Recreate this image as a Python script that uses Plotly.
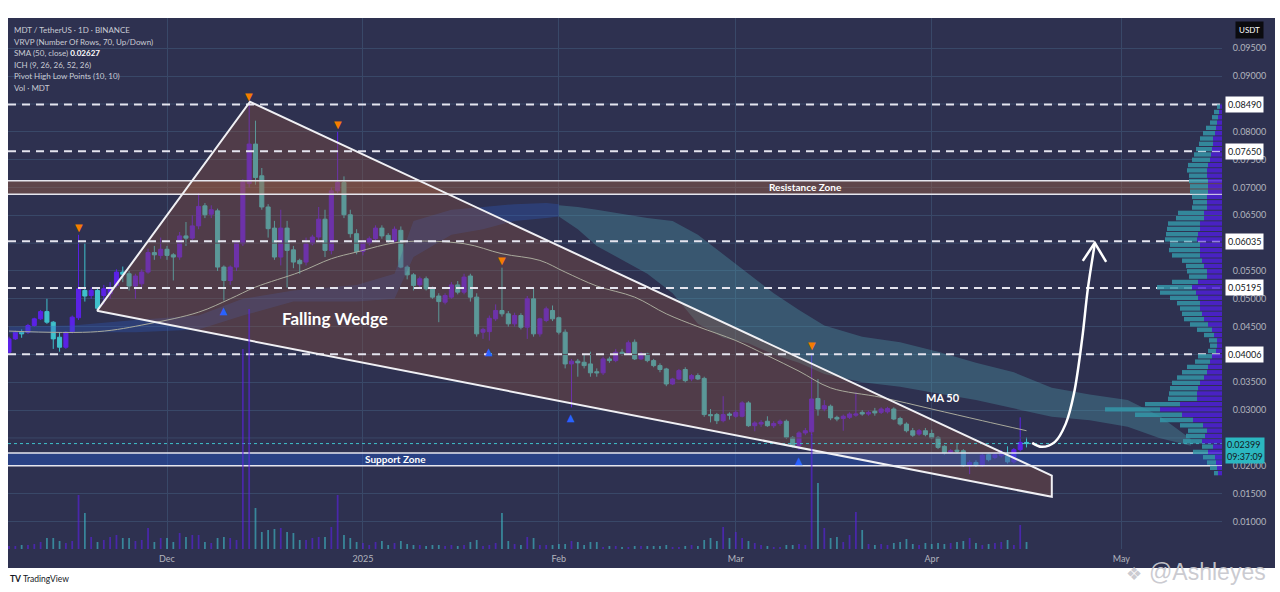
import numpy as np
import pandas as pd
import plotly.graph_objects as go

# ---------------- data ----------------
start_date = "2024-11-06"
ref_date = "2024-12-01"

open_ = [0.0404,0.0428,0.0441,0.0440,0.0452,0.0464,0.0477,0.0458,0.0431,0.0413,
         0.0441,0.0466,0.0515,0.0506,0.0515,0.0506,0.0509,0.0524,0.0548,0.0545,
         0.0523,0.0527,0.0548,0.0583,0.0578,0.0589,0.0579,0.0575,0.0613,0.0609,
         0.0631,0.0667,0.0652,0.0658,0.0557,0.0533,0.0557,0.0599,0.0707,0.0778,
         0.0721,0.0665,0.0627,0.0575,0.0627,0.0588,0.0569,0.0566,0.0599,0.0611,
         0.0643,0.0587,0.0694,0.0709,0.0651,0.0617,0.0585,0.0600,0.0608,0.0627,
         0.0614,0.0604,0.0623,0.0557,0.0543,0.0525,0.0536,0.0518,0.0505,0.0494,
         0.0503,0.0525,0.0512,0.0541,0.0503,0.0440,0.0441,0.0464,0.0479,0.0473,
         0.0455,0.0470,0.0449,0.0500,0.0437,0.0461,0.0479,0.0466,0.0440,0.0383,
         0.0388,0.0386,0.0383,0.0369,0.0367,0.0392,0.0389,0.0404,0.0403,0.0422,
         0.0392,0.0401,0.0389,0.0380,0.0374,0.0347,0.0356,0.0373,0.0356,0.0362,
         0.0357,0.0292,0.0292,0.0281,0.0293,0.0289,0.0289,0.0313,0.0272,0.0275,
         0.0280,0.0272,0.0276,0.0280,0.0251,0.0236,0.0259,0.0261,0.0321,0.0302,
         0.0307,0.0287,0.0285,0.0287,0.0291,0.0296,0.0293,0.0298,0.0296,0.0297,
         0.0302,0.0285,0.0275,0.0263,0.0257,0.0263,0.0258,0.0251,0.0235,0.0224,
         0.0228,0.0227,0.0200,0.0206,0.0200,0.0220,0.0215,0.0218,0.0218,0.0207,
         0.0229,0.0242]
high = [0.0432,0.0443,0.0445,0.0455,0.0466,0.0480,0.0500,0.0460,0.0440,0.0442,
        0.0470,0.0615,0.0600,0.0520,0.0520,0.0525,0.0530,0.0553,0.0558,0.0550,
        0.0545,0.0553,0.0590,0.0595,0.0610,0.0595,0.0582,0.0620,0.0638,0.0650,
        0.0690,0.0672,0.0668,0.0662,0.0560,0.0560,0.0605,0.0715,0.0850,0.0820,
        0.0735,0.0670,0.0640,0.0660,0.0640,0.0595,0.0572,0.0610,0.0615,0.0665,
        0.0660,0.0700,0.0800,0.0720,0.0660,0.0625,0.0606,0.0612,0.0632,0.0632,
        0.0618,0.0630,0.0630,0.0560,0.0546,0.0540,0.0540,0.0522,0.0510,0.0510,
        0.0530,0.0532,0.0545,0.0545,0.0510,0.0448,0.0470,0.0490,0.0556,0.0478,
        0.0475,0.0474,0.0505,0.0518,0.0466,0.0486,0.0488,0.0468,0.0445,0.0392,
        0.0392,0.0400,0.0405,0.0375,0.0396,0.0396,0.0410,0.0410,0.0425,0.0427,
        0.0404,0.0403,0.0392,0.0384,0.0376,0.0358,0.0374,0.0377,0.0365,0.0366,
        0.0360,0.0302,0.0295,0.0325,0.0296,0.0300,0.0316,0.0316,0.0280,0.0282,
        0.0289,0.0280,0.0283,0.0283,0.0253,0.0262,0.0268,0.0402,0.0356,0.0318,
        0.0310,0.0290,0.0292,0.0296,0.0332,0.0300,0.0299,0.0304,0.0305,0.0306,
        0.0305,0.0288,0.0278,0.0268,0.0266,0.0268,0.0265,0.0253,0.0237,0.0230,
        0.0240,0.0230,0.0210,0.0210,0.0222,0.0222,0.0224,0.0228,0.0235,0.0232,
        0.0287,0.0251]
low = [0.0400,0.0426,0.0430,0.0437,0.0450,0.0462,0.0455,0.0410,0.0405,0.0410,
       0.0438,0.0462,0.0495,0.0500,0.0478,0.0490,0.0500,0.0520,0.0530,0.0515,
       0.0500,0.0520,0.0545,0.0570,0.0572,0.0570,0.0533,0.0570,0.0595,0.0605,
       0.0625,0.0645,0.0645,0.0550,0.0497,0.0525,0.0550,0.0595,0.0700,0.0705,
       0.0660,0.0610,0.0570,0.0560,0.0520,0.0555,0.0545,0.0560,0.0596,0.0605,
       0.0575,0.0580,0.0690,0.0645,0.0610,0.0580,0.0578,0.0596,0.0604,0.0608,
       0.0600,0.0600,0.0555,0.0535,0.0515,0.0520,0.0515,0.0500,0.0458,0.0490,
       0.0500,0.0508,0.0508,0.0495,0.0432,0.0428,0.0425,0.0460,0.0468,0.0450,
       0.0450,0.0445,0.0428,0.0432,0.0432,0.0458,0.0460,0.0436,0.0375,0.0305,
       0.0360,0.0375,0.0360,0.0360,0.0363,0.0385,0.0386,0.0398,0.0400,0.0390,
       0.0390,0.0386,0.0377,0.0368,0.0343,0.0345,0.0354,0.0350,0.0352,0.0354,
       0.0288,0.0278,0.0275,0.0278,0.0283,0.0286,0.0287,0.0270,0.0262,0.0270,
       0.0270,0.0268,0.0272,0.0248,0.0233,0.0229,0.0255,0.0255,0.0290,0.0298,
       0.0282,0.0280,0.0263,0.0284,0.0288,0.0290,0.0290,0.0290,0.0293,0.0294,
       0.0282,0.0272,0.0260,0.0252,0.0254,0.0253,0.0248,0.0230,0.0220,0.0222,
       0.0222,0.0198,0.0185,0.0198,0.0198,0.0208,0.0212,0.0215,0.0204,0.0204,
       0.0226,0.0233]
close = [0.0428,0.0440,0.0437,0.0452,0.0464,0.0477,0.0458,0.0428,0.0413,0.0440,
         0.0467,0.0518,0.0505,0.0515,0.0483,0.0518,0.0518,0.0548,0.0544,0.0523,
         0.0541,0.0548,0.0583,0.0579,0.0589,0.0578,0.0575,0.0613,0.0609,0.0631,
         0.0666,0.0651,0.0660,0.0557,0.0533,0.0557,0.0601,0.0710,0.0778,0.0718,
         0.0665,0.0626,0.0575,0.0627,0.0587,0.0566,0.0563,0.0599,0.0611,0.0643,
         0.0587,0.0694,0.0709,0.0651,0.0617,0.0585,0.0602,0.0608,0.0627,0.0613,
         0.0604,0.0625,0.0557,0.0543,0.0524,0.0536,0.0518,0.0503,0.0495,0.0506,
         0.0525,0.0512,0.0539,0.0503,0.0437,0.0445,0.0465,0.0479,0.0473,0.0455,
         0.0470,0.0449,0.0500,0.0437,0.0464,0.0482,0.0464,0.0440,0.0383,0.0388,
         0.0385,0.0380,0.0367,0.0367,0.0392,0.0389,0.0404,0.0401,0.0421,0.0392,
         0.0401,0.0389,0.0380,0.0373,0.0347,0.0356,0.0371,0.0353,0.0362,0.0356,
         0.0292,0.0290,0.0281,0.0292,0.0291,0.0296,0.0313,0.0272,0.0277,0.0278,
         0.0272,0.0276,0.0280,0.0251,0.0236,0.0259,0.0263,0.0320,0.0302,0.0308,
         0.0286,0.0284,0.0289,0.0293,0.0293,0.0293,0.0296,0.0295,0.0302,0.0303,
         0.0284,0.0275,0.0263,0.0255,0.0263,0.0256,0.0250,0.0233,0.0223,0.0227,
         0.0226,0.0200,0.0206,0.0201,0.0219,0.0211,0.0220,0.0224,0.0207,0.0229,
         0.0242,0.02399]
volume_m = [1.5,1.5,2,2,2.5,3.5,5.5,5.5,4,3,
            4,27,18,6,3.5,4.5,6,7,5.5,5.5,
            4,4.5,10.5,3.5,5.5,5.5,3.5,8,6,7,
            7,3.5,3,5.5,6,5.5,4.5,100,120,20.5,
            8.5,9.5,10,10.5,8.5,8,4.5,4.5,5.5,6,
            6,11,27,7,5.5,3.5,3,2,3.5,4,
            2,3,4,2.5,2,2,1.5,2,2,1.5,
            2,1.5,2,3.5,4.5,1.5,2,3,18,4,
            2.5,2,6,5.5,2,2,2,2.5,2.5,4,
            3.5,2,3.5,3.5,1,1.5,1.5,1,1,1.5,
            1.5,1.5,1.5,1.5,2,1,1,1.5,2,1.5,
            4.5,5.5,4,11,5.5,8.5,5.5,4,3,2,
            1.5,1,1,2,2,2.5,2,57.5,33,10.5,
            5.5,6,3.5,7,18.5,9.5,2.5,2,2.5,2,
            3,3.5,5,2.5,2,3,2.5,3,2.5,3,
            3.5,4,5.5,3,2,2.5,3,3.5,4.5,2,
            12,3.5]

# SMA(50) line, days since 1 Dec 2024
sma_days = [-25, -11, -3, 5, 10, 14, 21, 26, 30, 37, 47, 53, 59, 63, 68, 74,
            79, 84, 90, 95, 100, 105, 113, 121, 129, 136]
sma_vals = [0.0442, 0.0441, 0.0455, 0.0476, 0.0500, 0.0521, 0.0548, 0.0572, 0.0584,
            0.0602, 0.0599, 0.0581, 0.0569, 0.0548, 0.0523, 0.0503, 0.0473, 0.0450,
            0.0425, 0.0398, 0.0370, 0.0340, 0.0323, 0.0302, 0.0281, 0.0263]

# Ichimoku cloud (bullish / bearish parts)
cloud_bull_days = [-25, -15, -5, 5, 12, 20, 30, 36, 39, 45, 50, 55, 60, 62]
cloud_bull_top = [0.0450, 0.0452, 0.0462, 0.0470, 0.0500, 0.0515, 0.0525, 0.0545,
                  0.0640, 0.0660, 0.0665, 0.0670, 0.0672, 0.0670]
cloud_bull_bot = [0.0438, 0.0440, 0.0440, 0.0445, 0.0470, 0.0495, 0.0495, 0.0500,
                  0.0575, 0.0615, 0.0625, 0.0640, 0.0645, 0.0648]
cloud_bear_days = [62, 65, 68, 72, 76, 80, 84, 88, 92, 96, 100, 104, 110, 116, 122,
                   128, 134, 140, 146, 152, 157, 162]
cloud_bear_top = [0.0668, 0.0665, 0.0660, 0.0652, 0.0645, 0.0640, 0.0615, 0.0580,
                  0.0545, 0.0510, 0.0480, 0.0452, 0.0432, 0.0422, 0.0405, 0.0385,
                  0.0368, 0.0340, 0.0328, 0.0318, 0.0290, 0.0248]
cloud_bear_bot = [0.0648, 0.0625, 0.0595, 0.0570, 0.0545, 0.0510, 0.0455, 0.0430,
                  0.0420, 0.0400, 0.0385, 0.0365, 0.0350, 0.0342, 0.0330, 0.0318,
                  0.0303, 0.0288, 0.0282, 0.0270, 0.0250, 0.0236]

# Visible range volume profile (70 rows)
vp_low, vp_high = 0.0182, 0.0850
vp_down = [4,5,6,7,14,9,20,17,15,19, 29,40,62,42,25,25,24,22,18,15,
           14,12,10,6,5,5,8,10,14,18, 20,22,22,24,26,30,24,15,15,18,
           20,22,22,22,25,24,22,22,18,18, 15,15,15,14,14,14,15,15,14,12,
           11,10,9,9,7,6,5,4,3,2]
vp_up = [4,7,9,12,15,11,19,19,19,23, 33,47,55,35,29,28,28,28,27,25,
         21,15,14,8,7,8,10,15,18,20, 20,20,23,28,36,35,26,18,20,18,
         20,28,31,30,32,32,33,32,28,26, 15,14,15,18,18,19,18,20,20,18,
         17,16,14,13,12,10,7,6,5,3]

key_levels = [0.08490, 0.07650, 0.06035, 0.05195, 0.04006]
resistance_zone = (0.0688, 0.0712)
support_zone = (0.0200, 0.0223)
last_price = 0.02399
grid_levels = [round(0.01 + 0.005 * k, 3) for k in range(18)]
# axis labels that are covered by the price boxes in the reference
hidden_ticks = [0.085, 0.06, 0.04, 0.025]
price_ticks = [v for v in grid_levels if v not in hidden_ticks]

pivot_high_days = [-14, 13, 27, 53, 102]
pivot_low_days = [9, 51, 64, 100]

wedge_days = [-11.08, 13.13, 140.0, 140.0]
wedge_prices = [0.04784, 0.0854, 0.01823, 0.01442]

arrow_days = [136.9, 138.4, 140.5, 142.2, 143.5, 144.8, 145.7, 146.8]
arrow_prices = [0.02412, 0.02340, 0.02430, 0.02753, 0.03293, 0.04280, 0.05179, 0.05987]
arrow_head_days = [144.9, 146.8, 148.6]
arrow_head_prices = [0.05681, 0.06005, 0.05663]

month_days = [0, 31, 62, 90, 121, 151]
month_labels = ["Dec", "2025", "Feb", "Mar", "Apr", "May"]

# ---------------- styling ----------------
BG = "#2e3150"
UP = "#5b22e6"
DN = "#3fc0cb"
GRID = "#394868"
AXT = "#b2b5be"
XR = [-25.16, 166.93]
YR = [0.00505, 0.10045]

dates = pd.date_range(start_date, periods=len(close), freq="D")
xd = (dates - pd.Timestamp(ref_date)).days.values.astype(float)

fig = go.Figure()

# grid lines at levels whose labels are hidden
for v in hidden_ticks:
    fig.add_trace(go.Scatter(x=XR, y=[v, v], mode="lines",
                             line=dict(color=GRID, width=1), hoverinfo="skip"))

# Ichimoku cloud
fig.add_trace(go.Scatter(x=cloud_bull_days + cloud_bull_days[::-1],
                         y=cloud_bull_top + cloud_bull_bot[::-1], fill="toself",
                         fillcolor="rgba(45,90,190,0.33)", line=dict(width=0),
                         mode="lines", hoverinfo="skip"))
fig.add_trace(go.Scatter(x=cloud_bear_days + cloud_bear_days[::-1],
                         y=cloud_bear_top + cloud_bear_bot[::-1], fill="toself",
                         fillcolor="rgba(80,160,175,0.34)", line=dict(width=0),
                         mode="lines", hoverinfo="skip"))

# wedge fill
fig.add_trace(go.Scatter(x=wedge_days, y=wedge_prices, fill="toself",
                         fillcolor="rgba(140,80,60,0.36)", line=dict(width=0),
                         mode="lines", hoverinfo="skip"))

# zones
for (lo, hi), col in [(resistance_zone, "rgba(165,100,70,0.42)"),
                      (support_zone, "rgba(35,90,210,0.40)")]:
    fig.add_trace(go.Scatter(x=[XR[0], XR[1], XR[1], XR[0]], y=[lo, lo, hi, hi],
                             fill="toself", fillcolor=col, line=dict(width=0),
                             mode="lines", hoverinfo="skip"))

# volume profile
n_rows = len(vp_up)
row_h = (vp_high - vp_low) / n_rows
vp_centers = vp_low + row_h * (np.arange(n_rows) + 0.5)
fig.add_trace(go.Bar(x=vp_down, y=vp_centers, orientation="h", xaxis="x2", yaxis="y",
                     width=row_h * 0.82, base=0, marker=dict(color="rgba(78,32,215,0.85)",
                     line=dict(width=0)), hoverinfo="skip"))
fig.add_trace(go.Bar(x=vp_up, y=vp_centers, orientation="h", xaxis="x2", yaxis="y",
                     width=row_h * 0.82, base=vp_down, marker=dict(color="rgba(52,150,168,0.85)",
                     line=dict(width=0)), hoverinfo="skip"))

# volume bars
vcol = ["rgba(91,34,230,0.6)" if c >= o else "rgba(63,192,203,0.6)"
        for o, c in zip(open_, close)]
fig.add_trace(go.Bar(x=xd, y=volume_m, yaxis="y2", width=0.28,
                     marker=dict(color=vcol, line=dict(width=0)), hoverinfo="skip"))

# SMA
fig.add_trace(go.Scatter(x=sma_days, y=sma_vals, mode="lines",
                         line=dict(color="#a9aa9c", width=1, shape="spline"),
                         hoverinfo="skip"))

# candles
fig.add_trace(go.Candlestick(x=xd, open=open_, high=high, low=low, close=close,
                             increasing=dict(line=dict(color=UP, width=1), fillcolor=UP),
                             decreasing=dict(line=dict(color=DN, width=1), fillcolor=DN),
                             whiskerwidth=0, hoverinfo="skip"))

# zone edge lines
for lo, hi in [resistance_zone, support_zone]:
    for v in (lo, hi):
        fig.add_trace(go.Scatter(x=XR, y=[v, v], mode="lines",
                                 line=dict(color="#e6e6ee", width=1.5), hoverinfo="skip"))

# dashed key levels
for v in key_levels:
    fig.add_trace(go.Scatter(x=XR, y=[v, v], mode="lines",
                             line=dict(color="#e4e4ee", width=2, dash="8px,6px"),
                             hoverinfo="skip"))

# last price line
fig.add_trace(go.Scatter(x=XR, y=[last_price, last_price], mode="lines",
                         line=dict(color=DN, width=1, dash="dot"), hoverinfo="skip"))

# wedge outline
fig.add_trace(go.Scatter(x=wedge_days + wedge_days[:1], y=wedge_prices + wedge_prices[:1],
                         mode="lines", line=dict(color="#f0f0f4", width=2), hoverinfo="skip"))

# arrow
fig.add_trace(go.Scatter(x=arrow_days, y=arrow_prices, mode="lines",
                         line=dict(color="white", width=2.5, shape="spline"), hoverinfo="skip"))
fig.add_trace(go.Scatter(x=arrow_head_days, y=arrow_head_prices, mode="lines",
                         line=dict(color="white", width=2.5), hoverinfo="skip"))

ann = []
# pivots
for d in pivot_high_days:
    i = list(xd).index(d)
    ann.append(dict(x=d, y=high[i], xref="x", yref="y", text="▼", showarrow=False,
                    xanchor="center", yanchor="bottom", yshift=0,
                    font=dict(size=10, color="#f57c00", family="DejaVu Sans")))
for d in pivot_low_days:
    i = list(xd).index(d)
    ann.append(dict(x=d, y=low[i], xref="x", yref="y", text="▲", showarrow=False,
                    xanchor="center", yanchor="top", yshift=-3,
                    font=dict(size=10, color="#2962ff", family="DejaVu Sans")))

# drawing labels
ann.append(dict(x=26.6, y=0.0464, xref="x", yref="y", text="<b>Falling Wedge</b>",
                xanchor="center", yanchor="middle", showarrow=False,
                font=dict(size=17, color="white", family="Lato")))
ann.append(dict(x=101, y=sum(resistance_zone) / 2, xref="x", yref="y",
                text="<b>Resistance Zone</b>", showarrow=False,
                xanchor="center", yanchor="middle",
                font=dict(size=10, color="white", family="Lato")))
ann.append(dict(x=36.1, y=sum(support_zone) / 2, xref="x", yref="y",
                text="<b>Support Zone</b>", showarrow=False,
                xanchor="center", yanchor="middle",
                font=dict(size=10, color="white", family="Lato")))
ann.append(dict(x=122.8, y=0.0322, xref="x", yref="y", text="<b>MA 50</b>",
                xanchor="center", yanchor="middle",
                showarrow=False, font=dict(size=11, color="white", family="Lato")))

# price boxes
for v in key_levels:
    ann.append(dict(x=1.0, y=v, xref="paper", yref="y", xanchor="left", yanchor="middle",
                    xshift=3, text=f"{v:.5f}", showarrow=False, bgcolor="white", borderpad=2,
                    font=dict(size=9, color="#131722", family="Lato")))
ann.append(dict(x=1.0, y=last_price, xref="paper", yref="y", xanchor="left", xshift=3,
                yanchor="top", yshift=7, text=f"{last_price:.5f}<br>09:37:09",
                showarrow=False, bgcolor="#2bb7c0", borderpad=1, align="left",
                font=dict(size=9, color="#131722", family="Lato")))
ann.append(dict(x=(1249 - 8) / 1214, y=(549 - 30) / 531, xref="paper", yref="paper",
                xanchor="center", yanchor="middle", text="USDT",
                showarrow=False, bgcolor="#0b0b0f", borderpad=3,
                font=dict(size=8, color="white", family="Lato")))

# legend text
legend_lines = ["MDT / TetherUS · 1D · BINANCE",
                "VRVP (Number Of Rows, 70, Up/Down)",
                "SMA (50, close) <b><span style='color:white'>0.02627</span></b>",
                "ICH (9, 26, 26, 52, 26)",
                "Pivot High Low Points (10, 10)",
                "Vol · MDT"]
for k, t in enumerate(legend_lines):
    ypx = 30 + k * 11.6
    ann.append(dict(x=4 / 1214, y=(549 - ypx) / 531, xref="paper", yref="paper",
                    xanchor="left", yanchor="middle", text=t, showarrow=False,
                    font=dict(size=8, color="#c9cbd4", family="Lato")))

# branding
ann.append(dict(x=0 / 1214, y=(549 - 579) / 531, xref="paper", yref="paper",
                xanchor="left", yanchor="middle", text="<b>TV</b> TradingView",
                showarrow=False, font=dict(size=8.5, color="#131722", family="Lato")))
ann.append(dict(x=(1147 - 8) / 1214, y=(549 - 572) / 531, xref="paper", yref="paper",
                xanchor="left", yanchor="middle", text="@Ashleyes", showarrow=False,
                font=dict(size=23, color="rgba(200,200,206,0.95)", family="Liberation Sans")))
ann.append(dict(x=(1134 - 8) / 1214, y=(549 - 573) / 531, xref="paper", yref="paper",
                xanchor="center", yanchor="middle", text="❖", showarrow=False,
                font=dict(size=18, color="rgba(200,200,206,0.95)", family="DejaVu Sans")))

fig.add_shape(type="rect", xref="paper", yref="paper", x0=0, x1=(1275 - 8) / 1214,
              y0=(549 - 568) / 531, y1=1.0, fillcolor=BG, line_width=0, layer="below")

fig.update_layout(
    width=1280, height=592, margin=dict(l=8, r=58, t=18, b=43),
    paper_bgcolor="white", plot_bgcolor=BG, showlegend=False, hovermode=False,
    barmode="overlay", boxgap=0.2, boxgroupgap=0.2, annotations=ann,
    xaxis=dict(range=XR, tickvals=month_days, ticktext=month_labels, showgrid=True,
               gridcolor=GRID, gridwidth=1, zeroline=False, showline=False,
               ticks="outside", ticklen=1, tickcolor="rgba(0,0,0,0)",
               tickfont=dict(size=9, color=AXT, family="Lato"),
               rangeslider=dict(visible=False), fixedrange=True),
    xaxis2=dict(range=[1214, 0], overlaying="x", anchor="y", visible=False),
    yaxis=dict(range=YR, side="right", tickvals=price_ticks, tickformat=".5f",
               showgrid=True, gridcolor=GRID, gridwidth=1, zeroline=False,
               ticks="outside", ticklen=8, tickcolor="rgba(0,0,0,0)",
               tickfont=dict(size=9, color=AXT, family="Lato")),
    yaxis2=dict(range=[0, 265.5], overlaying="y", visible=False),
)

fig.write_html("out.html")
